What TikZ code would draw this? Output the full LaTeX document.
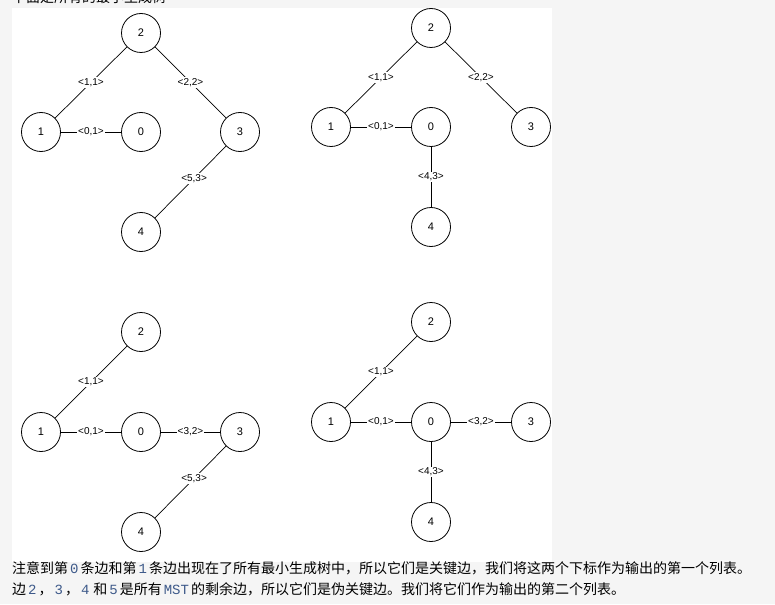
\documentclass[tikz,border=0pt]{standalone}
\usepackage{fontspec}
\setmainfont{Liberation Sans}
\newfontfamily\cjk{Noto Sans CJK SC}
\newfontfamily\codef{Liberation Mono}
\definecolor{codec}{HTML}{3E5A8A}
\newcommand{\cd}[1]{\hspace{2pt}{\codef\color{codec}#1}\hspace{2pt}}
\begin{document}
\begin{tikzpicture}[x=1pt,y=-1pt,
  v/.style={circle,draw,line width=0.8pt,minimum size=39pt,inner sep=0pt,font=\fontsize{11}{11}\selectfont},
  e/.style={line width=0.7pt},
  lab/.style={fill=white,inner sep=1pt,font=\fontsize{10}{10}\selectfont}]
\fill[black!4] (0,0) rectangle (775,604);
\useasboundingbox (0,0) rectangle (775,604);
\fill[white] (12,8) rectangle (552,562);
\begin{scope}
\clip (0,0) rectangle (775,8);
\node[anchor=west,inner sep=0pt,font=\cjk\fontsize{14}{14}\selectfont] (top) at (12,-3) {下面是所有的最小生成树};
\end{scope}
% tree 1
\node[v] (a2) at (141,33) {2}; \node[v] (a1) at (41,132) {1}; \node[v] (a0) at (141,132) {0};
\node[v] (a3) at (240,132) {3}; \node[v] (a4) at (141,232) {4};
\draw[e] (a2) -- node[lab]{<1,1>} (a1);
\draw[e] (a2) -- node[lab]{<2,2>} (a3);
\draw[e] (a1) -- node[lab]{<0,1>} (a0);
\draw[e] (a3) -- node[lab,pos=0.45]{<5,3>} (a4);
% tree 2
\node[v] (b2) at (431,28) {2}; \node[v] (b1) at (331,127) {1}; \node[v] (b0) at (431,127) {0};
\node[v] (b3) at (531,127) {3}; \node[v] (b4) at (431,227) {4};
\draw[e] (b2) -- node[lab]{<1,1>} (b1);
\draw[e] (b2) -- node[lab]{<2,2>} (b3);
\draw[e] (b1) -- node[lab]{<0,1>} (b0);
\draw[e] (b0) -- node[lab]{<4,3>} (b4);
% tree 3
\node[v] (c2) at (141,332) {2}; \node[v] (c1) at (41,432) {1}; \node[v] (c0) at (141,432) {0};
\node[v] (c3) at (240,432) {3}; \node[v] (c4) at (141,532) {4};
\draw[e] (c2) -- node[lab]{<1,1>} (c1);
\draw[e] (c1) -- node[lab]{<0,1>} (c0);
\draw[e] (c0) -- node[lab]{<3,2>} (c3);
\draw[e] (c3) -- node[lab,pos=0.45]{<5,3>} (c4);
% tree 4
\node[v] (d2) at (431,322) {2}; \node[v] (d1) at (331,422) {1}; \node[v] (d0) at (431,422) {0};
\node[v] (d3) at (531,422) {3}; \node[v] (d4) at (431,522) {4};
\draw[e] (d2) -- node[lab]{<1,1>} (d1);
\draw[e] (d1) -- node[lab]{<0,1>} (d0);
\draw[e] (d0) -- node[lab]{<3,2>} (d3);
\draw[e] (d0) -- node[lab]{<4,3>} (d4);
% text
\node[anchor=west,inner sep=0pt,font=\cjk\fontsize{14}{14}\selectfont] (t1) at (12,568) {注意到第\cd{0}条边和第\cd{1}条边出现在了所有最小生成树中，所以它们是关键边，我们将这两个下标作为输出的第一个列表。};
\node[anchor=west,inner sep=0pt,font=\cjk\fontsize{14}{14}\selectfont] (t2) at (12,589) {边\cd{2}，\cd{3}，\cd{4}\hspace{2pt}和\cd{5}是所有\cd{MST}的剩余边，所以它们是伪关键边。我们将它们作为输出的第二个列表。};
\end{tikzpicture}
\end{document}
